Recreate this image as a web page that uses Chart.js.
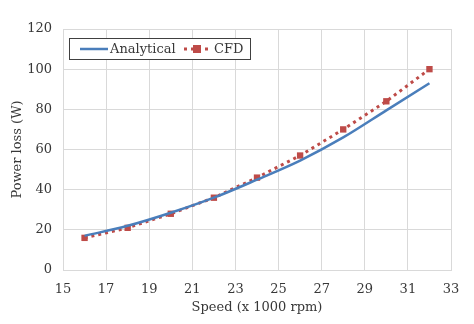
<!DOCTYPE html>
<html>
<head>
<meta charset="utf-8">
<script src="https://cdn.jsdelivr.net/npm/chart.js@4/dist/chart.umd.min.js"></script>
<style>
  html, body { margin: 0; padding: 0; background: #fff; }
  #wrap { width: 474px; height: 324px; }
</style>
</head>
<body>
<div id="wrap"><canvas id="chart" width="474" height="324"></canvas></div>
<script>
// speeds in x1000 rpm
const speeds = [16, 18, 20, 22, 24, 26, 28, 30, 32];
const analyticalLoss = [17, 22, 28.5, 36, 45, 54.5, 66, 79.5, 93];
const cfdLoss = [16, 21, 28, 36, 46, 57, 70, 84, 100];
const xTicks = [15, 17, 19, 21, 23, 25, 27, 29, 31, 33];
const yTicks = [0, 20, 40, 60, 80, 100, 120];

const FONT = "'DejaVu Serif', serif";
const BLUE = "#4a7ebb";
const RED = "#be4b48";
const TEXT = "#383838";

// legend drawn in the plot, boxed like the original
const boxLegend = {
  id: "boxLegend",
  afterDraw(chart) {
    const ctx = chart.ctx;
    ctx.save();
    ctx.strokeStyle = "#404040";
    ctx.lineWidth = 1;
    ctx.fillStyle = "#fff";
    ctx.fillRect(69.5, 38.5, 181, 21);
    ctx.strokeRect(69.5, 38.5, 181, 21);

    ctx.font = "13px " + FONT;
    ctx.fillStyle = TEXT;
    ctx.textBaseline = "middle";

    // Analytical
    ctx.strokeStyle = BLUE;
    ctx.lineWidth = 2.5;
    ctx.beginPath();
    ctx.moveTo(80, 49);
    ctx.lineTo(108, 49);
    ctx.stroke();
    ctx.fillText("Analytical", 110, 49.5);

    // CFD
    ctx.strokeStyle = RED;
    ctx.lineWidth = 3;
    ctx.setLineDash([3, 4]);
    ctx.beginPath();
    ctx.moveTo(184, 49);
    ctx.lineTo(210, 49);
    ctx.stroke();
    ctx.setLineDash([]);
    ctx.fillStyle = RED;
    ctx.fillRect(193, 45, 8, 8);
    ctx.fillStyle = TEXT;
    ctx.fillText("CFD", 214, 49.5);
    ctx.restore();
  }
};

new Chart(document.getElementById("chart"), {
  type: "line",
  data: {
    datasets: [
      {
        label: "Analytical",
        data: speeds.map((s, i) => ({ x: s, y: analyticalLoss[i] })),
        borderColor: BLUE,
        borderWidth: 2.5,
        pointRadius: 0,
        cubicInterpolationMode: "monotone",
        fill: false
      },
      {
        label: "CFD",
        data: speeds.map((s, i) => ({ x: s, y: cfdLoss[i] })),
        borderColor: RED,
        backgroundColor: RED,
        borderWidth: 3,
        borderDash: [3, 4],
        pointStyle: "rect",
        pointRadius: 4.5,
        pointBorderWidth: 0,
        tension: 0,
        fill: false
      }
    ]
  },
  options: {
    responsive: false,
    animation: false,
    layout: { padding: { top: 29, right: 23, left: 0, bottom: 0 } },
    plugins: {
      legend: { display: false },
      tooltip: { enabled: false }
    },
    scales: {
      x: {
        type: "linear",
        min: 15,
        max: 33,
        afterBuildTicks: (axis) => { axis.ticks = xTicks.map(v => ({ value: v })); },
        afterFit: (axis) => { axis.height = 54; },
        grid: { color: "#d9d9d9", lineWidth: 1, drawTicks: false },
        border: { color: "#d9d9d9" },
        ticks: { color: TEXT, font: { family: FONT, size: 13 }, padding: 12, maxRotation: 0 },
        title: {
          display: true,
          text: "Speed (x 1000 rpm)",
          color: TEXT,
          font: { family: FONT, size: 13 },
          padding: { top: 2, bottom: 9 }
        }
      },
      y: {
        min: 0,
        max: 120,
        afterBuildTicks: (axis) => { axis.ticks = yTicks.map(v => ({ value: v })); },
        afterFit: (axis) => { axis.width = 63; },
        grid: { color: "#d9d9d9", lineWidth: 1, drawTicks: false },
        border: { color: "#d9d9d9" },
        ticks: { color: TEXT, font: { family: FONT, size: 13 }, padding: 11 },
        title: {
          display: true,
          text: "Power loss (W)",
          color: TEXT,
          font: { family: FONT, size: 13 },
          padding: { top: 10, bottom: 4 }
        }
      }
    }
  },
  plugins: [boxLegend]
});
</script>
</body>
</html>
